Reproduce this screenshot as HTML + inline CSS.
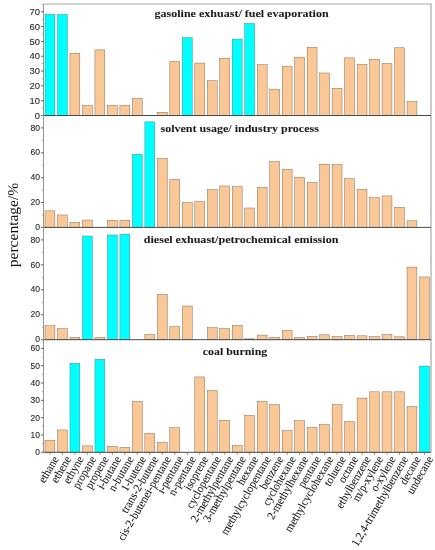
<!DOCTYPE html><html><head><meta charset="utf-8"><style>html,body{margin:0;padding:0;background:#fff;overflow:hidden;}svg{display:block;will-change:transform;}</style></head><body>
<svg width="435" height="550" viewBox="0 0 435 550">
<rect x="0" y="0" width="435" height="550" fill="#fff"/>
<rect x="44.99" y="14.32" width="9.90" height="101.18" fill="#00FFFF" stroke="#407070" stroke-width="0.4"/>
<rect x="57.48" y="14.47" width="9.90" height="101.03" fill="#00FFFF" stroke="#407070" stroke-width="0.4"/>
<rect x="69.96" y="53.28" width="9.90" height="62.22" fill="#FAC896" stroke="#6A5040" stroke-width="0.4"/>
<rect x="82.44" y="105.43" width="9.90" height="10.07" fill="#FAC896" stroke="#6A5040" stroke-width="0.4"/>
<rect x="94.93" y="49.88" width="9.90" height="65.62" fill="#FAC896" stroke="#6A5040" stroke-width="0.4"/>
<rect x="107.41" y="105.43" width="9.90" height="10.07" fill="#FAC896" stroke="#6A5040" stroke-width="0.4"/>
<rect x="119.90" y="105.43" width="9.90" height="10.07" fill="#FAC896" stroke="#6A5040" stroke-width="0.4"/>
<rect x="132.38" y="98.32" width="9.90" height="17.18" fill="#FAC896" stroke="#6A5040" stroke-width="0.4"/>
<rect x="157.35" y="112.24" width="9.90" height="3.26" fill="#FAC896" stroke="#6A5040" stroke-width="0.4"/>
<rect x="169.83" y="61.43" width="9.90" height="54.07" fill="#FAC896" stroke="#6A5040" stroke-width="0.4"/>
<rect x="182.31" y="37.58" width="9.90" height="77.92" fill="#00FFFF" stroke="#407070" stroke-width="0.4"/>
<rect x="194.80" y="63.06" width="9.90" height="52.44" fill="#FAC896" stroke="#6A5040" stroke-width="0.4"/>
<rect x="207.28" y="80.69" width="9.90" height="34.81" fill="#FAC896" stroke="#6A5040" stroke-width="0.4"/>
<rect x="219.77" y="58.17" width="9.90" height="57.33" fill="#FAC896" stroke="#6A5040" stroke-width="0.4"/>
<rect x="232.25" y="39.06" width="9.90" height="76.44" fill="#00FFFF" stroke="#407070" stroke-width="0.4"/>
<rect x="244.73" y="23.51" width="9.90" height="91.99" fill="#00FFFF" stroke="#407070" stroke-width="0.4"/>
<rect x="257.22" y="64.69" width="9.90" height="50.81" fill="#FAC896" stroke="#6A5040" stroke-width="0.4"/>
<rect x="269.70" y="89.13" width="9.90" height="26.37" fill="#FAC896" stroke="#6A5040" stroke-width="0.4"/>
<rect x="282.19" y="66.32" width="9.90" height="49.18" fill="#FAC896" stroke="#6A5040" stroke-width="0.4"/>
<rect x="294.67" y="57.14" width="9.90" height="58.36" fill="#FAC896" stroke="#6A5040" stroke-width="0.4"/>
<rect x="307.15" y="47.36" width="9.90" height="68.14" fill="#FAC896" stroke="#6A5040" stroke-width="0.4"/>
<rect x="319.64" y="72.99" width="9.90" height="42.51" fill="#FAC896" stroke="#6A5040" stroke-width="0.4"/>
<rect x="332.12" y="88.39" width="9.90" height="27.11" fill="#FAC896" stroke="#6A5040" stroke-width="0.4"/>
<rect x="344.60" y="57.88" width="9.90" height="57.62" fill="#FAC896" stroke="#6A5040" stroke-width="0.4"/>
<rect x="357.09" y="64.39" width="9.90" height="51.11" fill="#FAC896" stroke="#6A5040" stroke-width="0.4"/>
<rect x="369.57" y="59.21" width="9.90" height="56.29" fill="#FAC896" stroke="#6A5040" stroke-width="0.4"/>
<rect x="382.06" y="63.51" width="9.90" height="51.99" fill="#FAC896" stroke="#6A5040" stroke-width="0.4"/>
<rect x="394.54" y="47.80" width="9.90" height="67.70" fill="#FAC896" stroke="#6A5040" stroke-width="0.4"/>
<rect x="407.02" y="101.58" width="9.90" height="13.92" fill="#FAC896" stroke="#6A5040" stroke-width="0.4"/>
<rect x="44.99" y="210.86" width="9.90" height="16.54" fill="#FAC896" stroke="#6A5040" stroke-width="0.4"/>
<rect x="57.48" y="214.97" width="9.90" height="12.43" fill="#FAC896" stroke="#6A5040" stroke-width="0.4"/>
<rect x="69.96" y="222.43" width="9.90" height="4.97" fill="#FAC896" stroke="#6A5040" stroke-width="0.4"/>
<rect x="82.44" y="220.06" width="9.90" height="7.34" fill="#FAC896" stroke="#6A5040" stroke-width="0.4"/>
<rect x="107.41" y="220.44" width="9.90" height="6.96" fill="#FAC896" stroke="#6A5040" stroke-width="0.4"/>
<rect x="119.90" y="220.44" width="9.90" height="6.96" fill="#FAC896" stroke="#6A5040" stroke-width="0.4"/>
<rect x="132.38" y="154.29" width="9.90" height="73.11" fill="#00FFFF" stroke="#407070" stroke-width="0.4"/>
<rect x="144.86" y="121.84" width="9.90" height="105.56" fill="#00FFFF" stroke="#407070" stroke-width="0.4"/>
<rect x="157.35" y="158.52" width="9.90" height="68.88" fill="#FAC896" stroke="#6A5040" stroke-width="0.4"/>
<rect x="169.83" y="179.41" width="9.90" height="47.99" fill="#FAC896" stroke="#6A5040" stroke-width="0.4"/>
<rect x="182.31" y="202.53" width="9.90" height="24.87" fill="#FAC896" stroke="#6A5040" stroke-width="0.4"/>
<rect x="194.80" y="201.66" width="9.90" height="25.74" fill="#FAC896" stroke="#6A5040" stroke-width="0.4"/>
<rect x="207.28" y="189.60" width="9.90" height="37.80" fill="#FAC896" stroke="#6A5040" stroke-width="0.4"/>
<rect x="219.77" y="186.00" width="9.90" height="41.40" fill="#FAC896" stroke="#6A5040" stroke-width="0.4"/>
<rect x="232.25" y="186.62" width="9.90" height="40.78" fill="#FAC896" stroke="#6A5040" stroke-width="0.4"/>
<rect x="244.73" y="208.00" width="9.90" height="19.40" fill="#FAC896" stroke="#6A5040" stroke-width="0.4"/>
<rect x="257.22" y="187.36" width="9.90" height="40.04" fill="#FAC896" stroke="#6A5040" stroke-width="0.4"/>
<rect x="269.70" y="161.63" width="9.90" height="65.77" fill="#FAC896" stroke="#6A5040" stroke-width="0.4"/>
<rect x="282.19" y="169.34" width="9.90" height="58.06" fill="#FAC896" stroke="#6A5040" stroke-width="0.4"/>
<rect x="294.67" y="177.17" width="9.90" height="50.23" fill="#FAC896" stroke="#6A5040" stroke-width="0.4"/>
<rect x="307.15" y="182.52" width="9.90" height="44.88" fill="#FAC896" stroke="#6A5040" stroke-width="0.4"/>
<rect x="319.64" y="164.36" width="9.90" height="63.04" fill="#FAC896" stroke="#6A5040" stroke-width="0.4"/>
<rect x="332.12" y="164.61" width="9.90" height="62.79" fill="#FAC896" stroke="#6A5040" stroke-width="0.4"/>
<rect x="344.60" y="178.79" width="9.90" height="48.61" fill="#FAC896" stroke="#6A5040" stroke-width="0.4"/>
<rect x="357.09" y="189.35" width="9.90" height="38.05" fill="#FAC896" stroke="#6A5040" stroke-width="0.4"/>
<rect x="369.57" y="197.56" width="9.90" height="29.84" fill="#FAC896" stroke="#6A5040" stroke-width="0.4"/>
<rect x="382.06" y="195.94" width="9.90" height="31.46" fill="#FAC896" stroke="#6A5040" stroke-width="0.4"/>
<rect x="394.54" y="207.26" width="9.90" height="20.14" fill="#FAC896" stroke="#6A5040" stroke-width="0.4"/>
<rect x="407.02" y="220.81" width="9.90" height="6.59" fill="#FAC896" stroke="#6A5040" stroke-width="0.4"/>
<rect x="44.99" y="325.72" width="9.90" height="13.98" fill="#FAC896" stroke="#6A5040" stroke-width="0.4"/>
<rect x="57.48" y="328.72" width="9.90" height="10.98" fill="#FAC896" stroke="#6A5040" stroke-width="0.4"/>
<rect x="69.96" y="337.45" width="9.90" height="2.25" fill="#FAC896" stroke="#6A5040" stroke-width="0.4"/>
<rect x="82.44" y="236.01" width="9.90" height="103.69" fill="#00FFFF" stroke="#407070" stroke-width="0.4"/>
<rect x="94.93" y="337.58" width="9.90" height="2.12" fill="#FAC896" stroke="#6A5040" stroke-width="0.4"/>
<rect x="107.41" y="235.01" width="9.90" height="104.69" fill="#00FFFF" stroke="#407070" stroke-width="0.4"/>
<rect x="119.90" y="234.26" width="9.90" height="105.44" fill="#00FFFF" stroke="#407070" stroke-width="0.4"/>
<rect x="144.86" y="334.58" width="9.90" height="5.12" fill="#FAC896" stroke="#6A5040" stroke-width="0.4"/>
<rect x="157.35" y="294.28" width="9.90" height="45.42" fill="#FAC896" stroke="#6A5040" stroke-width="0.4"/>
<rect x="169.83" y="326.72" width="9.90" height="12.98" fill="#FAC896" stroke="#6A5040" stroke-width="0.4"/>
<rect x="182.31" y="306.01" width="9.90" height="33.69" fill="#FAC896" stroke="#6A5040" stroke-width="0.4"/>
<rect x="207.28" y="327.72" width="9.90" height="11.98" fill="#FAC896" stroke="#6A5040" stroke-width="0.4"/>
<rect x="219.77" y="328.72" width="9.90" height="10.98" fill="#FAC896" stroke="#6A5040" stroke-width="0.4"/>
<rect x="232.25" y="325.35" width="9.90" height="14.35" fill="#FAC896" stroke="#6A5040" stroke-width="0.4"/>
<rect x="244.73" y="338.83" width="9.90" height="0.87" fill="#FAC896" stroke="#6A5040" stroke-width="0.4"/>
<rect x="257.22" y="335.08" width="9.90" height="4.62" fill="#FAC896" stroke="#6A5040" stroke-width="0.4"/>
<rect x="269.70" y="337.45" width="9.90" height="2.25" fill="#FAC896" stroke="#6A5040" stroke-width="0.4"/>
<rect x="282.19" y="330.47" width="9.90" height="9.23" fill="#FAC896" stroke="#6A5040" stroke-width="0.4"/>
<rect x="294.67" y="337.58" width="9.90" height="2.12" fill="#FAC896" stroke="#6A5040" stroke-width="0.4"/>
<rect x="307.15" y="336.33" width="9.90" height="3.37" fill="#FAC896" stroke="#6A5040" stroke-width="0.4"/>
<rect x="319.64" y="334.83" width="9.90" height="4.87" fill="#FAC896" stroke="#6A5040" stroke-width="0.4"/>
<rect x="332.12" y="336.58" width="9.90" height="3.12" fill="#FAC896" stroke="#6A5040" stroke-width="0.4"/>
<rect x="344.60" y="335.46" width="9.90" height="4.24" fill="#FAC896" stroke="#6A5040" stroke-width="0.4"/>
<rect x="357.09" y="335.83" width="9.90" height="3.87" fill="#FAC896" stroke="#6A5040" stroke-width="0.4"/>
<rect x="369.57" y="336.58" width="9.90" height="3.12" fill="#FAC896" stroke="#6A5040" stroke-width="0.4"/>
<rect x="382.06" y="334.58" width="9.90" height="5.12" fill="#FAC896" stroke="#6A5040" stroke-width="0.4"/>
<rect x="394.54" y="336.83" width="9.90" height="2.87" fill="#FAC896" stroke="#6A5040" stroke-width="0.4"/>
<rect x="407.02" y="267.08" width="9.90" height="72.62" fill="#FAC896" stroke="#6A5040" stroke-width="0.4"/>
<rect x="419.51" y="276.94" width="9.90" height="62.76" fill="#FAC896" stroke="#6A5040" stroke-width="0.4"/>
<rect x="44.99" y="440.35" width="9.90" height="11.95" fill="#FAC896" stroke="#6A5040" stroke-width="0.4"/>
<rect x="57.48" y="429.95" width="9.90" height="22.35" fill="#FAC896" stroke="#6A5040" stroke-width="0.4"/>
<rect x="69.96" y="363.26" width="9.90" height="89.04" fill="#00FFFF" stroke="#407070" stroke-width="0.4"/>
<rect x="82.44" y="445.89" width="9.90" height="6.41" fill="#FAC896" stroke="#6A5040" stroke-width="0.4"/>
<rect x="94.93" y="359.28" width="9.90" height="93.02" fill="#00FFFF" stroke="#407070" stroke-width="0.4"/>
<rect x="107.41" y="446.24" width="9.90" height="6.06" fill="#FAC896" stroke="#6A5040" stroke-width="0.4"/>
<rect x="119.90" y="447.45" width="9.90" height="4.85" fill="#FAC896" stroke="#6A5040" stroke-width="0.4"/>
<rect x="132.38" y="401.54" width="9.90" height="50.76" fill="#FAC896" stroke="#6A5040" stroke-width="0.4"/>
<rect x="144.86" y="433.24" width="9.90" height="19.06" fill="#FAC896" stroke="#6A5040" stroke-width="0.4"/>
<rect x="157.35" y="442.43" width="9.90" height="9.87" fill="#FAC896" stroke="#6A5040" stroke-width="0.4"/>
<rect x="169.83" y="427.70" width="9.90" height="24.60" fill="#FAC896" stroke="#6A5040" stroke-width="0.4"/>
<rect x="194.80" y="376.94" width="9.90" height="75.36" fill="#FAC896" stroke="#6A5040" stroke-width="0.4"/>
<rect x="207.28" y="390.63" width="9.90" height="61.67" fill="#FAC896" stroke="#6A5040" stroke-width="0.4"/>
<rect x="219.77" y="420.25" width="9.90" height="32.05" fill="#FAC896" stroke="#6A5040" stroke-width="0.4"/>
<rect x="232.25" y="445.54" width="9.90" height="6.76" fill="#FAC896" stroke="#6A5040" stroke-width="0.4"/>
<rect x="244.73" y="415.40" width="9.90" height="36.90" fill="#FAC896" stroke="#6A5040" stroke-width="0.4"/>
<rect x="257.22" y="401.37" width="9.90" height="50.93" fill="#FAC896" stroke="#6A5040" stroke-width="0.4"/>
<rect x="269.70" y="404.66" width="9.90" height="47.64" fill="#FAC896" stroke="#6A5040" stroke-width="0.4"/>
<rect x="282.19" y="430.65" width="9.90" height="21.65" fill="#FAC896" stroke="#6A5040" stroke-width="0.4"/>
<rect x="294.67" y="420.77" width="9.90" height="31.53" fill="#FAC896" stroke="#6A5040" stroke-width="0.4"/>
<rect x="307.15" y="427.53" width="9.90" height="24.77" fill="#FAC896" stroke="#6A5040" stroke-width="0.4"/>
<rect x="319.64" y="424.58" width="9.90" height="27.72" fill="#FAC896" stroke="#6A5040" stroke-width="0.4"/>
<rect x="332.12" y="404.66" width="9.90" height="47.64" fill="#FAC896" stroke="#6A5040" stroke-width="0.4"/>
<rect x="344.60" y="421.64" width="9.90" height="30.66" fill="#FAC896" stroke="#6A5040" stroke-width="0.4"/>
<rect x="357.09" y="398.08" width="9.90" height="54.22" fill="#FAC896" stroke="#6A5040" stroke-width="0.4"/>
<rect x="369.57" y="391.84" width="9.90" height="60.46" fill="#FAC896" stroke="#6A5040" stroke-width="0.4"/>
<rect x="382.06" y="391.84" width="9.90" height="60.46" fill="#FAC896" stroke="#6A5040" stroke-width="0.4"/>
<rect x="394.54" y="391.84" width="9.90" height="60.46" fill="#FAC896" stroke="#6A5040" stroke-width="0.4"/>
<rect x="407.02" y="406.57" width="9.90" height="45.73" fill="#FAC896" stroke="#6A5040" stroke-width="0.4"/>
<rect x="419.51" y="366.03" width="9.90" height="86.27" fill="#00FFFF" stroke="#407070" stroke-width="0.4"/>
<path d="M43.5,4.0 H431.0 V452.3" fill="none" stroke="#A8A8A8" stroke-width="1.2"/>
<line x1="43.5" y1="115.5" x2="431.0" y2="115.5" stroke="#4A4A4A" stroke-width="1.0"/>
<line x1="43.5" y1="227.4" x2="431.0" y2="227.4" stroke="#4A4A4A" stroke-width="1.0"/>
<line x1="43.5" y1="339.7" x2="431.0" y2="339.7" stroke="#4A4A4A" stroke-width="1.0"/>
<line x1="43.5" y1="452.3" x2="431.0" y2="452.3" stroke="#4A4A4A" stroke-width="1.0"/>
<line x1="43.5" y1="4.0" x2="43.5" y2="452.3" stroke="#95959B" stroke-width="1"/>
<line x1="41.0" y1="115.50" x2="43.5" y2="115.50" stroke="#606060" stroke-width="1"/>
<text transform="translate(40,118.60) scale(0.95,1)" text-anchor="end" font-family="Liberation Sans" font-size="9.9" fill="#2a2a2a" stroke="#2a2a2a" stroke-width="0.12">0</text>
<line x1="42.0" y1="108.09" x2="43.5" y2="108.09" stroke="#909090" stroke-width="0.8"/>
<line x1="41.0" y1="100.69" x2="43.5" y2="100.69" stroke="#606060" stroke-width="1"/>
<text transform="translate(40,103.79) scale(0.95,1)" text-anchor="end" font-family="Liberation Sans" font-size="9.9" fill="#2a2a2a" stroke="#2a2a2a" stroke-width="0.12">10</text>
<line x1="42.0" y1="93.28" x2="43.5" y2="93.28" stroke="#909090" stroke-width="0.8"/>
<line x1="41.0" y1="85.87" x2="43.5" y2="85.87" stroke="#606060" stroke-width="1"/>
<text transform="translate(40,88.97) scale(0.95,1)" text-anchor="end" font-family="Liberation Sans" font-size="9.9" fill="#2a2a2a" stroke="#2a2a2a" stroke-width="0.12">20</text>
<line x1="42.0" y1="78.47" x2="43.5" y2="78.47" stroke="#909090" stroke-width="0.8"/>
<line x1="41.0" y1="71.06" x2="43.5" y2="71.06" stroke="#606060" stroke-width="1"/>
<text transform="translate(40,74.16) scale(0.95,1)" text-anchor="end" font-family="Liberation Sans" font-size="9.9" fill="#2a2a2a" stroke="#2a2a2a" stroke-width="0.12">30</text>
<line x1="42.0" y1="63.65" x2="43.5" y2="63.65" stroke="#909090" stroke-width="0.8"/>
<line x1="41.0" y1="56.25" x2="43.5" y2="56.25" stroke="#606060" stroke-width="1"/>
<text transform="translate(40,59.35) scale(0.95,1)" text-anchor="end" font-family="Liberation Sans" font-size="9.9" fill="#2a2a2a" stroke="#2a2a2a" stroke-width="0.12">40</text>
<line x1="42.0" y1="48.84" x2="43.5" y2="48.84" stroke="#909090" stroke-width="0.8"/>
<line x1="41.0" y1="41.43" x2="43.5" y2="41.43" stroke="#606060" stroke-width="1"/>
<text transform="translate(40,44.53) scale(0.95,1)" text-anchor="end" font-family="Liberation Sans" font-size="9.9" fill="#2a2a2a" stroke="#2a2a2a" stroke-width="0.12">50</text>
<line x1="42.0" y1="34.03" x2="43.5" y2="34.03" stroke="#909090" stroke-width="0.8"/>
<line x1="41.0" y1="26.62" x2="43.5" y2="26.62" stroke="#606060" stroke-width="1"/>
<text transform="translate(40,29.72) scale(0.95,1)" text-anchor="end" font-family="Liberation Sans" font-size="9.9" fill="#2a2a2a" stroke="#2a2a2a" stroke-width="0.12">60</text>
<line x1="42.0" y1="19.21" x2="43.5" y2="19.21" stroke="#909090" stroke-width="0.8"/>
<line x1="41.0" y1="11.81" x2="43.5" y2="11.81" stroke="#606060" stroke-width="1"/>
<text transform="translate(40,14.91) scale(0.95,1)" text-anchor="end" font-family="Liberation Sans" font-size="9.9" fill="#2a2a2a" stroke="#2a2a2a" stroke-width="0.12">70</text>
<line x1="42.0" y1="4.40" x2="43.5" y2="4.40" stroke="#909090" stroke-width="0.8"/>
<line x1="41.0" y1="227.40" x2="43.5" y2="227.40" stroke="#606060" stroke-width="1"/>
<text transform="translate(40,230.00) scale(0.9,1)" text-anchor="end" font-family="Liberation Sans" font-size="9.6" fill="#2a2a2a" stroke="#2a2a2a" stroke-width="0.12">0</text>
<line x1="42.0" y1="214.97" x2="43.5" y2="214.97" stroke="#909090" stroke-width="0.8"/>
<line x1="41.0" y1="202.53" x2="43.5" y2="202.53" stroke="#606060" stroke-width="1"/>
<text transform="translate(40,205.13) scale(0.9,1)" text-anchor="end" font-family="Liberation Sans" font-size="9.6" fill="#2a2a2a" stroke="#2a2a2a" stroke-width="0.12">20</text>
<line x1="42.0" y1="190.10" x2="43.5" y2="190.10" stroke="#909090" stroke-width="0.8"/>
<line x1="41.0" y1="177.67" x2="43.5" y2="177.67" stroke="#606060" stroke-width="1"/>
<text transform="translate(40,180.27) scale(0.9,1)" text-anchor="end" font-family="Liberation Sans" font-size="9.6" fill="#2a2a2a" stroke="#2a2a2a" stroke-width="0.12">40</text>
<line x1="42.0" y1="165.23" x2="43.5" y2="165.23" stroke="#909090" stroke-width="0.8"/>
<line x1="41.0" y1="152.80" x2="43.5" y2="152.80" stroke="#606060" stroke-width="1"/>
<text transform="translate(40,155.40) scale(0.9,1)" text-anchor="end" font-family="Liberation Sans" font-size="9.6" fill="#2a2a2a" stroke="#2a2a2a" stroke-width="0.12">60</text>
<line x1="42.0" y1="140.37" x2="43.5" y2="140.37" stroke="#909090" stroke-width="0.8"/>
<line x1="41.0" y1="127.93" x2="43.5" y2="127.93" stroke="#606060" stroke-width="1"/>
<text transform="translate(40,130.53) scale(0.9,1)" text-anchor="end" font-family="Liberation Sans" font-size="9.6" fill="#2a2a2a" stroke="#2a2a2a" stroke-width="0.12">80</text>
<line x1="42.0" y1="115.50" x2="43.5" y2="115.50" stroke="#909090" stroke-width="0.8"/>
<line x1="41.0" y1="339.70" x2="43.5" y2="339.70" stroke="#606060" stroke-width="1"/>
<text transform="translate(40,342.40) scale(0.9,1)" text-anchor="end" font-family="Liberation Sans" font-size="9.6" fill="#2a2a2a" stroke="#2a2a2a" stroke-width="0.12">0</text>
<line x1="42.0" y1="327.22" x2="43.5" y2="327.22" stroke="#909090" stroke-width="0.8"/>
<line x1="41.0" y1="314.74" x2="43.5" y2="314.74" stroke="#606060" stroke-width="1"/>
<text transform="translate(40,317.44) scale(0.9,1)" text-anchor="end" font-family="Liberation Sans" font-size="9.6" fill="#2a2a2a" stroke="#2a2a2a" stroke-width="0.12">20</text>
<line x1="42.0" y1="302.27" x2="43.5" y2="302.27" stroke="#909090" stroke-width="0.8"/>
<line x1="41.0" y1="289.79" x2="43.5" y2="289.79" stroke="#606060" stroke-width="1"/>
<text transform="translate(40,292.49) scale(0.9,1)" text-anchor="end" font-family="Liberation Sans" font-size="9.6" fill="#2a2a2a" stroke="#2a2a2a" stroke-width="0.12">40</text>
<line x1="42.0" y1="277.31" x2="43.5" y2="277.31" stroke="#909090" stroke-width="0.8"/>
<line x1="41.0" y1="264.83" x2="43.5" y2="264.83" stroke="#606060" stroke-width="1"/>
<text transform="translate(40,267.53) scale(0.9,1)" text-anchor="end" font-family="Liberation Sans" font-size="9.6" fill="#2a2a2a" stroke="#2a2a2a" stroke-width="0.12">60</text>
<line x1="42.0" y1="252.36" x2="43.5" y2="252.36" stroke="#909090" stroke-width="0.8"/>
<line x1="41.0" y1="239.88" x2="43.5" y2="239.88" stroke="#606060" stroke-width="1"/>
<text transform="translate(40,242.58) scale(0.9,1)" text-anchor="end" font-family="Liberation Sans" font-size="9.6" fill="#2a2a2a" stroke="#2a2a2a" stroke-width="0.12">80</text>
<line x1="42.0" y1="227.40" x2="43.5" y2="227.40" stroke="#909090" stroke-width="0.8"/>
<line x1="41.0" y1="452.30" x2="43.5" y2="452.30" stroke="#606060" stroke-width="1"/>
<text transform="translate(40,455.20) scale(0.9,1)" text-anchor="end" font-family="Liberation Sans" font-size="9.4" fill="#2a2a2a" stroke="#2a2a2a" stroke-width="0.12">0</text>
<line x1="42.0" y1="443.64" x2="43.5" y2="443.64" stroke="#909090" stroke-width="0.8"/>
<line x1="41.0" y1="434.98" x2="43.5" y2="434.98" stroke="#606060" stroke-width="1"/>
<text transform="translate(40,437.88) scale(0.9,1)" text-anchor="end" font-family="Liberation Sans" font-size="9.4" fill="#2a2a2a" stroke="#2a2a2a" stroke-width="0.12">10</text>
<line x1="42.0" y1="426.32" x2="43.5" y2="426.32" stroke="#909090" stroke-width="0.8"/>
<line x1="41.0" y1="417.65" x2="43.5" y2="417.65" stroke="#606060" stroke-width="1"/>
<text transform="translate(40,420.55) scale(0.9,1)" text-anchor="end" font-family="Liberation Sans" font-size="9.4" fill="#2a2a2a" stroke="#2a2a2a" stroke-width="0.12">20</text>
<line x1="42.0" y1="408.99" x2="43.5" y2="408.99" stroke="#909090" stroke-width="0.8"/>
<line x1="41.0" y1="400.33" x2="43.5" y2="400.33" stroke="#606060" stroke-width="1"/>
<text transform="translate(40,403.23) scale(0.9,1)" text-anchor="end" font-family="Liberation Sans" font-size="9.4" fill="#2a2a2a" stroke="#2a2a2a" stroke-width="0.12">30</text>
<line x1="42.0" y1="391.67" x2="43.5" y2="391.67" stroke="#909090" stroke-width="0.8"/>
<line x1="41.0" y1="383.01" x2="43.5" y2="383.01" stroke="#606060" stroke-width="1"/>
<text transform="translate(40,385.91) scale(0.9,1)" text-anchor="end" font-family="Liberation Sans" font-size="9.4" fill="#2a2a2a" stroke="#2a2a2a" stroke-width="0.12">40</text>
<line x1="42.0" y1="374.35" x2="43.5" y2="374.35" stroke="#909090" stroke-width="0.8"/>
<line x1="41.0" y1="365.68" x2="43.5" y2="365.68" stroke="#606060" stroke-width="1"/>
<text transform="translate(40,368.58) scale(0.9,1)" text-anchor="end" font-family="Liberation Sans" font-size="9.4" fill="#2a2a2a" stroke="#2a2a2a" stroke-width="0.12">50</text>
<line x1="42.0" y1="357.02" x2="43.5" y2="357.02" stroke="#909090" stroke-width="0.8"/>
<line x1="41.0" y1="348.36" x2="43.5" y2="348.36" stroke="#606060" stroke-width="1"/>
<text transform="translate(40,351.26) scale(0.9,1)" text-anchor="end" font-family="Liberation Sans" font-size="9.4" fill="#2a2a2a" stroke="#2a2a2a" stroke-width="0.12">60</text>
<line x1="42.0" y1="339.70" x2="43.5" y2="339.70" stroke="#909090" stroke-width="0.8"/>
<line x1="49.94" y1="452.3" x2="49.94" y2="454.8" stroke="#707070" stroke-width="0.8"/>
<line x1="62.43" y1="452.3" x2="62.43" y2="454.8" stroke="#707070" stroke-width="0.8"/>
<line x1="74.91" y1="452.3" x2="74.91" y2="454.8" stroke="#707070" stroke-width="0.8"/>
<line x1="87.39" y1="452.3" x2="87.39" y2="454.8" stroke="#707070" stroke-width="0.8"/>
<line x1="99.88" y1="452.3" x2="99.88" y2="454.8" stroke="#707070" stroke-width="0.8"/>
<line x1="112.36" y1="452.3" x2="112.36" y2="454.8" stroke="#707070" stroke-width="0.8"/>
<line x1="124.85" y1="452.3" x2="124.85" y2="454.8" stroke="#707070" stroke-width="0.8"/>
<line x1="137.33" y1="452.3" x2="137.33" y2="454.8" stroke="#707070" stroke-width="0.8"/>
<line x1="149.81" y1="452.3" x2="149.81" y2="454.8" stroke="#707070" stroke-width="0.8"/>
<line x1="162.30" y1="452.3" x2="162.30" y2="454.8" stroke="#707070" stroke-width="0.8"/>
<line x1="174.78" y1="452.3" x2="174.78" y2="454.8" stroke="#707070" stroke-width="0.8"/>
<line x1="187.26" y1="452.3" x2="187.26" y2="454.8" stroke="#707070" stroke-width="0.8"/>
<line x1="199.75" y1="452.3" x2="199.75" y2="454.8" stroke="#707070" stroke-width="0.8"/>
<line x1="212.23" y1="452.3" x2="212.23" y2="454.8" stroke="#707070" stroke-width="0.8"/>
<line x1="224.72" y1="452.3" x2="224.72" y2="454.8" stroke="#707070" stroke-width="0.8"/>
<line x1="237.20" y1="452.3" x2="237.20" y2="454.8" stroke="#707070" stroke-width="0.8"/>
<line x1="249.68" y1="452.3" x2="249.68" y2="454.8" stroke="#707070" stroke-width="0.8"/>
<line x1="262.17" y1="452.3" x2="262.17" y2="454.8" stroke="#707070" stroke-width="0.8"/>
<line x1="274.65" y1="452.3" x2="274.65" y2="454.8" stroke="#707070" stroke-width="0.8"/>
<line x1="287.14" y1="452.3" x2="287.14" y2="454.8" stroke="#707070" stroke-width="0.8"/>
<line x1="299.62" y1="452.3" x2="299.62" y2="454.8" stroke="#707070" stroke-width="0.8"/>
<line x1="312.10" y1="452.3" x2="312.10" y2="454.8" stroke="#707070" stroke-width="0.8"/>
<line x1="324.59" y1="452.3" x2="324.59" y2="454.8" stroke="#707070" stroke-width="0.8"/>
<line x1="337.07" y1="452.3" x2="337.07" y2="454.8" stroke="#707070" stroke-width="0.8"/>
<line x1="349.55" y1="452.3" x2="349.55" y2="454.8" stroke="#707070" stroke-width="0.8"/>
<line x1="362.04" y1="452.3" x2="362.04" y2="454.8" stroke="#707070" stroke-width="0.8"/>
<line x1="374.52" y1="452.3" x2="374.52" y2="454.8" stroke="#707070" stroke-width="0.8"/>
<line x1="387.01" y1="452.3" x2="387.01" y2="454.8" stroke="#707070" stroke-width="0.8"/>
<line x1="399.49" y1="452.3" x2="399.49" y2="454.8" stroke="#707070" stroke-width="0.8"/>
<line x1="411.97" y1="452.3" x2="411.97" y2="454.8" stroke="#707070" stroke-width="0.8"/>
<line x1="424.46" y1="452.3" x2="424.46" y2="454.8" stroke="#707070" stroke-width="0.8"/>
<text x="154.5" y="16.9" textLength="174.1" lengthAdjust="spacingAndGlyphs" font-family="Liberation Serif" font-weight="bold" font-size="11.3" fill="#1a1a1a" stroke="#1a1a1a" stroke-width="0.05">gasoline exhuast/ fuel evaporation</text>
<text x="160.5" y="131.9" textLength="158.4" lengthAdjust="spacingAndGlyphs" font-family="Liberation Serif" font-weight="bold" font-size="11.3" fill="#1a1a1a" stroke="#1a1a1a" stroke-width="0.05">solvent usage/ industry process</text>
<text x="143.8" y="243.0" textLength="194.6" lengthAdjust="spacingAndGlyphs" font-family="Liberation Serif" font-weight="bold" font-size="11.3" fill="#1a1a1a" stroke="#1a1a1a" stroke-width="0.05">diesel exhuast/petrochemical emission</text>
<text x="202.8" y="355.4" textLength="64.4" lengthAdjust="spacingAndGlyphs" font-family="Liberation Serif" font-weight="bold" font-size="11.3" fill="#1a1a1a" stroke="#1a1a1a" stroke-width="0.05">coal burning</text>
<text transform="translate(17.5,225.0) rotate(-90)" text-anchor="middle" font-family="Liberation Serif" font-size="15.5" fill="#111">percentage/%</text>
<text transform="translate(58.94,459.0) rotate(-60) scale(1.0,1.06)" text-anchor="end" font-family="Liberation Serif" font-size="11.0" fill="#111" stroke="#111" stroke-width="0.05">ethane</text>
<text transform="translate(71.43,459.0) rotate(-60) scale(1.0,1.06)" text-anchor="end" font-family="Liberation Serif" font-size="11.0" fill="#111" stroke="#111" stroke-width="0.05">ethene</text>
<text transform="translate(83.91,459.0) rotate(-60) scale(1.0,1.06)" text-anchor="end" font-family="Liberation Serif" font-size="11.0" fill="#111" stroke="#111" stroke-width="0.05">ethyne</text>
<text transform="translate(96.39,459.0) rotate(-60) scale(1.0,1.06)" text-anchor="end" font-family="Liberation Serif" font-size="11.0" fill="#111" stroke="#111" stroke-width="0.05">propane</text>
<text transform="translate(108.88,459.0) rotate(-60) scale(1.0,1.06)" text-anchor="end" font-family="Liberation Serif" font-size="11.0" fill="#111" stroke="#111" stroke-width="0.05">propene</text>
<text transform="translate(121.36,459.0) rotate(-60) scale(1.0,1.06)" text-anchor="end" font-family="Liberation Serif" font-size="11.0" fill="#111" stroke="#111" stroke-width="0.05">i-butane</text>
<text transform="translate(133.85,459.0) rotate(-60) scale(1.0,1.06)" text-anchor="end" font-family="Liberation Serif" font-size="11.0" fill="#111" stroke="#111" stroke-width="0.05">n-butane</text>
<text transform="translate(146.33,459.0) rotate(-60) scale(1.0,1.06)" text-anchor="end" font-family="Liberation Serif" font-size="11.0" fill="#111" stroke="#111" stroke-width="0.05">1-butene</text>
<text transform="translate(158.81,459.0) rotate(-60) scale(1.0,1.06)" text-anchor="end" font-family="Liberation Serif" font-size="11.0" fill="#111" stroke="#111" stroke-width="0.05">trans-2-butene</text>
<text transform="translate(171.30,459.0) rotate(-60) scale(1.0,1.06)" text-anchor="end" font-family="Liberation Serif" font-size="11.0" fill="#111" stroke="#111" stroke-width="0.05">cis-2-butenei-pentane</text>
<text transform="translate(183.78,459.0) rotate(-60) scale(1.0,1.06)" text-anchor="end" font-family="Liberation Serif" font-size="11.0" fill="#111" stroke="#111" stroke-width="0.05">i-pentane</text>
<text transform="translate(196.26,459.0) rotate(-60) scale(1.0,1.06)" text-anchor="end" font-family="Liberation Serif" font-size="11.0" fill="#111" stroke="#111" stroke-width="0.05">n-pentane</text>
<text transform="translate(208.75,459.0) rotate(-60) scale(1.0,1.06)" text-anchor="end" font-family="Liberation Serif" font-size="11.0" fill="#111" stroke="#111" stroke-width="0.05">isoprene</text>
<text transform="translate(221.23,459.0) rotate(-60) scale(1.0,1.06)" text-anchor="end" font-family="Liberation Serif" font-size="11.0" fill="#111" stroke="#111" stroke-width="0.05">cyclopentane</text>
<text transform="translate(233.72,459.0) rotate(-60) scale(1.0,1.06)" text-anchor="end" font-family="Liberation Serif" font-size="11.0" fill="#111" stroke="#111" stroke-width="0.05">2-methylpentane</text>
<text transform="translate(246.20,459.0) rotate(-60) scale(1.0,1.06)" text-anchor="end" font-family="Liberation Serif" font-size="11.0" fill="#111" stroke="#111" stroke-width="0.05">3-methylpentane</text>
<text transform="translate(258.68,459.0) rotate(-60) scale(1.0,1.06)" text-anchor="end" font-family="Liberation Serif" font-size="11.0" fill="#111" stroke="#111" stroke-width="0.05">hexane</text>
<text transform="translate(271.17,459.0) rotate(-60) scale(1.0,1.06)" text-anchor="end" font-family="Liberation Serif" font-size="11.0" fill="#111" stroke="#111" stroke-width="0.05">methylcyclopentane</text>
<text transform="translate(283.65,459.0) rotate(-60) scale(1.0,1.06)" text-anchor="end" font-family="Liberation Serif" font-size="11.0" fill="#111" stroke="#111" stroke-width="0.05">benzene</text>
<text transform="translate(296.14,459.0) rotate(-60) scale(1.0,1.06)" text-anchor="end" font-family="Liberation Serif" font-size="11.0" fill="#111" stroke="#111" stroke-width="0.05">cyclohexane</text>
<text transform="translate(308.62,459.0) rotate(-60) scale(1.0,1.06)" text-anchor="end" font-family="Liberation Serif" font-size="11.0" fill="#111" stroke="#111" stroke-width="0.05">2-methylhexane</text>
<text transform="translate(321.10,459.0) rotate(-60) scale(1.0,1.06)" text-anchor="end" font-family="Liberation Serif" font-size="11.0" fill="#111" stroke="#111" stroke-width="0.05">pentane</text>
<text transform="translate(333.59,459.0) rotate(-60) scale(1.0,1.06)" text-anchor="end" font-family="Liberation Serif" font-size="11.0" fill="#111" stroke="#111" stroke-width="0.05">methylcyclohexane</text>
<text transform="translate(346.07,459.0) rotate(-60) scale(1.0,1.06)" text-anchor="end" font-family="Liberation Serif" font-size="11.0" fill="#111" stroke="#111" stroke-width="0.05">toluene</text>
<text transform="translate(358.55,459.0) rotate(-60) scale(1.0,1.06)" text-anchor="end" font-family="Liberation Serif" font-size="11.0" fill="#111" stroke="#111" stroke-width="0.05">octane</text>
<text transform="translate(371.04,459.0) rotate(-60) scale(1.0,1.06)" text-anchor="end" font-family="Liberation Serif" font-size="11.0" fill="#111" stroke="#111" stroke-width="0.05">ethylbenzene</text>
<text transform="translate(383.52,459.0) rotate(-60) scale(1.0,1.06)" text-anchor="end" font-family="Liberation Serif" font-size="11.0" fill="#111" stroke="#111" stroke-width="0.05">m/p-xylene</text>
<text transform="translate(396.01,459.0) rotate(-60) scale(1.0,1.06)" text-anchor="end" font-family="Liberation Serif" font-size="11.0" fill="#111" stroke="#111" stroke-width="0.05">o-xylene</text>
<text transform="translate(408.49,459.0) rotate(-60) scale(1.0,1.06)" text-anchor="end" font-family="Liberation Serif" font-size="11.0" fill="#111" stroke="#111" stroke-width="0.05">1,2,4-trimethylbenzene</text>
<text transform="translate(420.97,459.0) rotate(-60) scale(1.0,1.06)" text-anchor="end" font-family="Liberation Serif" font-size="11.0" fill="#111" stroke="#111" stroke-width="0.05">decane</text>
<text transform="translate(433.46,459.0) rotate(-60) scale(1.0,1.06)" text-anchor="end" font-family="Liberation Serif" font-size="11.0" fill="#111" stroke="#111" stroke-width="0.05">undecane</text>
</svg></body></html>
